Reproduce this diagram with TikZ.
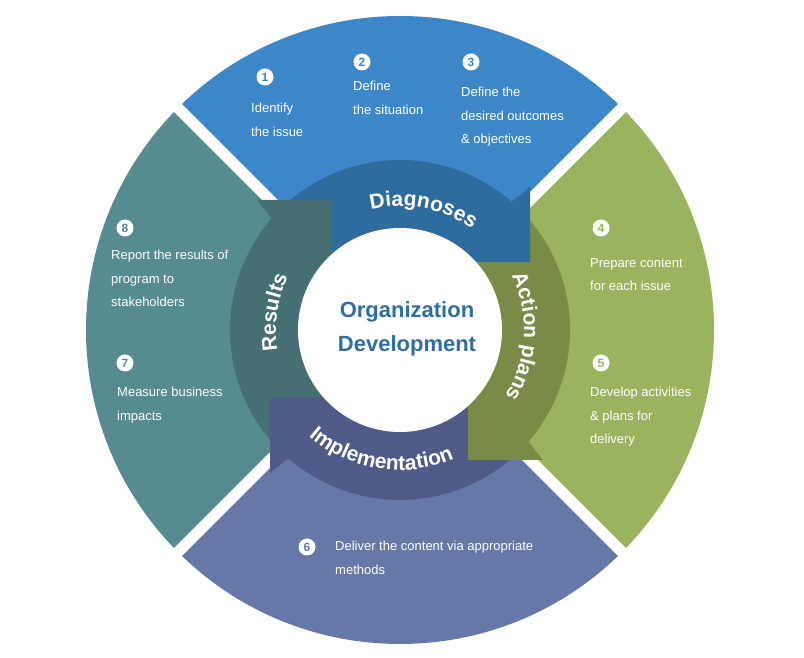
\documentclass[tikz,border=0pt]{standalone}
\usepackage{fontspec}
\setmainfont{Liberation Sans}
\usetikzlibrary{decorations.text}
\definecolor{cB}{HTML}{3D87C8}\definecolor{dB}{HTML}{2F6C9E}
\definecolor{cG}{HTML}{9AB35E}\definecolor{dG}{HTML}{788C48}
\definecolor{cP}{HTML}{6678A7}\definecolor{dP}{HTML}{4F5B86}
\definecolor{cT}{HTML}{568B90}\definecolor{dT}{HTML}{466F73}
\definecolor{cTx}{HTML}{2F6DA3}
\tikzset{
 lbl/.style={anchor=north west,inner sep=0pt,align=left,text=white,font=\fontsize{13}{23.5}\selectfont},
 num/.style={circle,fill=white,inner sep=0pt,minimum size=17pt,font=\bfseries\fontsize{12}{12}\selectfont},
 ringtxt/.style={decorate,decoration={text along path,text align=center,text color=white,text={|\bfseries\fontsize{21}{21}\selectfont|#1}}}
}
\newcommand{\armbody}[2]{\begin{scope}[shift={(400,328)},rotate=#1]
 \fill[#2] (50:102) -- (50:170) arc[start angle=50,end angle=140,radius=170] -- (140:102) arc[start angle=140,end angle=50,radius=102] -- cycle;
\end{scope}}
\newcommand{\armhead}[2]{\begin{scope}[shift={(400,328)},rotate=#1]
 \fill[#2] (56:102) -- (56:170) arc[start angle=56,end angle=49,radius=170] -- (130,143) -- (130,68) -- (55,68) -- (52:104) -- cycle;
\end{scope}}
\begin{document}
\begin{tikzpicture}[x=1pt,y=1pt]
\useasboundingbox (0,0) rectangle (804,658);
\fill[white] (0,0) rectangle (804,658);
\coordinate (C) at (400,328);
% outer sectors
\fill[cB] (C) -- ++(45:314) arc[start angle=45,end angle=135,radius=314] -- cycle;
\fill[cT] (C) -- ++(135:314) arc[start angle=135,end angle=225,radius=314] -- cycle;
\fill[cP] (C) -- ++(225:314) arc[start angle=225,end angle=315,radius=314] -- cycle;
\fill[cG] (C) -- ++(-45:314) arc[start angle=-45,end angle=45,radius=314] -- cycle;
\foreach \a in {45,135,225,315} \draw[white,line width=11pt] (C) -- ++(\a:330);
% middle ring
\armbody{0}{dB}\armbody{-90}{dG}\armbody{180}{dP}\armbody{90}{dT}
\armhead{0}{dB}\armhead{-90}{dG}\armhead{180}{dP}\armhead{90}{dT}
\fill[white] (C) circle (102);
% ring texts
\path[ringtxt=Diagnoses] ([shift={(112:124)}]C) arc[start angle=112,end angle=46,radius=124];
\path[ringtxt=Action plans] ([shift={(32:124)}]C) arc[start angle=32,end angle=-38,radius=124];
\path[ringtxt=Implementation] ([shift={(222:140)}]C) arc[start angle=222,end angle=300,radius=140];
\path[ringtxt=Results] ([shift={(202:124)}]C) arc[start angle=202,end angle=142,radius=124];
\node[text=cTx,font=\bfseries\fontsize{22}{34}\selectfont,align=center] (center) at (407,329) {Organization\\Development};
% numbered items
\node[num,text=cB] (n1) at (265,581) {1};
\node[lbl] (t1) at (251,555) {Identify\\the issue};
\node[num,text=cB] (n2) at (362,596) {2};
\node[lbl] (t2) at (353,577) {Define\\the situation};
\node[num,text=cB] (n3) at (471,596) {3};
\node[lbl] (t3) at (461,571) {Define the\\desired outcomes\\\& objectives};
\node[num,text=cG] (n4) at (601,430) {4};
\node[lbl] (t4) at (590,400) {Prepare content\\for each issue};
\node[num,text=cG] (n5) at (601,295) {5};
\node[lbl] (t5) at (590,271) {Develop activities\\\& plans for\\delivery};
\node[num,text=cP] (n6) at (307,111) {6};
\node[lbl] (t6) at (335,117) {Deliver the content via appropriate\\methods};
\node[num,text=cT] (n7) at (125,295) {7};
\node[lbl] (t7) at (117,271) {Measure business\\impacts};
\node[num,text=cT] (n8) at (125,430) {8};
\node[lbl] (t8) at (111,408) {Report the results of\\program to\\stakeholders};
\end{tikzpicture}
\end{document}
